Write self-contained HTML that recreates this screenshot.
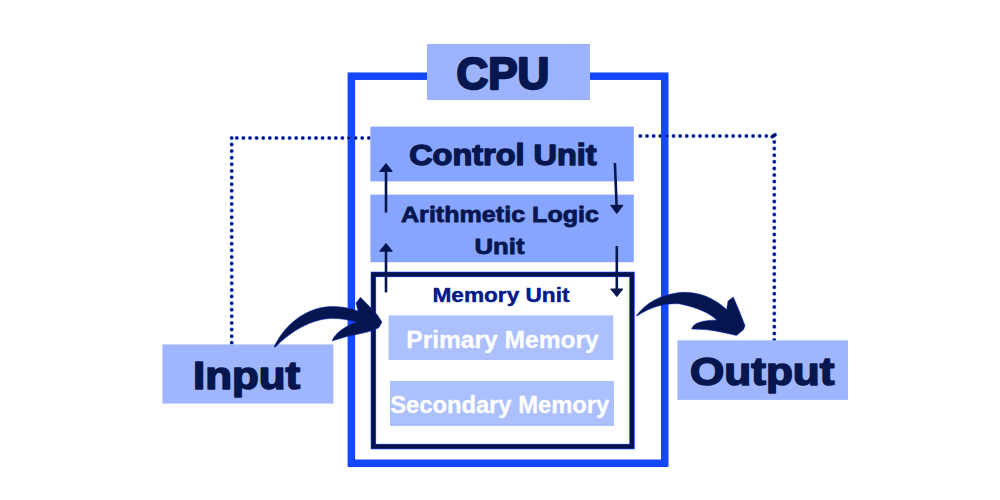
<!DOCTYPE html>
<html>
<head>
<meta charset="utf-8">
<style>
html,body{margin:0;padding:0;background:#fff;width:1000px;height:500px;overflow:hidden}
svg{display:block}
text{font-family:"Liberation Sans",sans-serif;font-weight:bold}
</style>
</head>
<body>
<svg width="1000" height="500" viewBox="0 0 1000 500">
<rect x="0" y="0" width="1000" height="500" fill="#ffffff"/>

<!-- CPU outer border -->
<rect x="351.35" y="76.2" width="313.4" height="387.05" fill="none" stroke="#1448ff" stroke-width="7.5"/>

<!-- dotted lines -->
<g fill="none" stroke-linecap="round">
  <path d="M231.7 137.9 V343.5" stroke="#1a4aff" stroke-width="4.0" stroke-dasharray="0 6.61"/>
  <path d="M236.8 137.9 H369.5" stroke="#1a4aff" stroke-width="4.0" stroke-dasharray="0 6.6"/>
  <path d="M640.4 136 H767" stroke="#1a4aff" stroke-width="4.0" stroke-dasharray="0 6.626"/>
  <path d="M774.3 142 V341" stroke="#1a4aff" stroke-width="4.0" stroke-dasharray="0 6.6"/>
  <path d="M772.2 136.6 L775 134.9" stroke="#1a4aff" stroke-width="4"/>
  <path d="M231.7 137.9 V343.5" stroke="#000a30" stroke-width="2.4" stroke-dasharray="0 6.61"/>
  <path d="M236.8 137.9 H369.5" stroke="#000a30" stroke-width="2.4" stroke-dasharray="0 6.6"/>
  <path d="M640.4 136 H767" stroke="#000a30" stroke-width="2.4" stroke-dasharray="0 6.626"/>
  <path d="M774.3 142 V341" stroke="#000a30" stroke-width="2.4" stroke-dasharray="0 6.6"/>
  <path d="M772.2 136.6 L775 134.9" stroke="#000a30" stroke-width="2.4"/>
</g>

<!-- CPU label -->
<rect x="427" y="44" width="163" height="56" fill="#9db4fd"/>

<!-- Control Unit -->
<rect x="370.4" y="126.6" width="263.4" height="54.8" fill="#88a5fe"/>
<!-- ALU -->
<rect x="370.4" y="194.6" width="263.4" height="67.6" fill="#88a5fe"/>

<!-- Memory unit box -->
<rect x="373.4" y="274.4" width="258.6" height="172.2" fill="#fff" stroke="#2050ff" stroke-width="5.4"/>
<rect x="373.3" y="274.4" width="258.7" height="172.1" fill="none" stroke="#03124a" stroke-width="4.2"/>
<rect x="388.6" y="315.4" width="224.6" height="44.6" fill="#abc0fd"/>
<rect x="390" y="381" width="224" height="45" fill="#abc0fd"/>

<!-- Input / Output -->
<rect x="162.4" y="344.4" width="171" height="59.2" fill="#9fb6fe"/>
<rect x="677.4" y="340.3" width="170.6" height="59.6" fill="#9fb6fe"/>

<!-- straight arrows -->
<g stroke="#04164f" stroke-width="2.6" fill="none">
  <line x1="386" y1="212.6" x2="386" y2="168"/>
  <line x1="386" y1="292.4" x2="386" y2="248"/>
  <line x1="614.9" y1="163" x2="616.6" y2="206"/>
  <line x1="616.8" y1="246" x2="616.8" y2="290"/>
</g>
<g fill="#04164f" stroke="#04164f" stroke-width="1" stroke-linejoin="round">
  <path d="M386 163.6 L392.3 171.4 L379.7 171.4 Z"/>
  <path d="M386 243.4 L392.3 251.2 L379.7 251.2 Z"/>
  <path d="M616.8 213.5 L610.6 205.3 L623 205.3 Z"/>
  <path d="M616.8 296.6 L610.7 289 L622.9 289 Z"/>
</g>

<!-- curved arrows -->
<g fill="#04164f" stroke="#0a2ad0" stroke-width="0.5" stroke-linejoin="round">
  <path d="M274 347 C284 326 304 308 330 306.5 C342 306.2 352 308.5 358 311 L356 303 L360.5 297.3 L371 308 L377 314.5 L382 322 L379 327.5 C372 331.5 360 334 347 336.5 L332 341 C334.5 334 344 326.5 356 322 C348 320 340 318 330 318.6 C312 319.5 292 330 275.5 347 Z"/>
  <path d="M636.4 315.6 C646 303 660 295 679 292.6 C695 291 712 296 726.6 309.4 L728 301 L733.3 297.1 L739.2 310.8 L745 325.6 L743.6 329.6 L736.6 335.6 C728 333.5 718 331 707 329.7 L691.6 329 C693.5 323.5 699 320.5 716.8 319.9 C710 314 700 308 679 303.8 C665 303 650 307 637 316 Z"/>
</g>

<!-- text -->
<g fill="#06164f" stroke="#06164f" stroke-linejoin="round">
  <text x="456.4" y="89.4" font-size="44.8" stroke-width="2.4" textLength="92.8" lengthAdjust="spacingAndGlyphs">CPU</text>
  <text x="409.2" y="165" font-size="29.9" stroke-width="1.4" textLength="187.4" lengthAdjust="spacingAndGlyphs">Control Unit</text>
  <text x="401" y="221.8" font-size="22.6" stroke-width="0.8" textLength="198" lengthAdjust="spacingAndGlyphs">Arithmetic Logic</text>
  <text x="474.5" y="253.7" font-size="22.6" stroke-width="0.8" textLength="50" lengthAdjust="spacingAndGlyphs">Unit</text>
  <text x="193" y="389" font-size="38.5" stroke-width="1.6" textLength="107" lengthAdjust="spacingAndGlyphs">Input</text>
  <text x="690" y="385" font-size="38.5" stroke-width="1.6" textLength="144.5" lengthAdjust="spacingAndGlyphs">Output</text>
</g>
<text x="432.5" y="301.7" font-size="20.3" stroke-width="0.3" stroke="#2050ff" stroke-linejoin="round" textLength="137" lengthAdjust="spacingAndGlyphs" fill="#2050ff">Memory Unit</text>
<text x="432.5" y="301.7" font-size="20.3" stroke-width="0" stroke="none" stroke-linejoin="round" textLength="137" lengthAdjust="spacingAndGlyphs" fill="#0a1c80">Memory Unit</text>
<g fill="#ffffff" stroke="#ffffff" stroke-width="0.3" stroke-linejoin="round">
  <text x="406.3" y="348.3" font-size="24.4" textLength="192.4" lengthAdjust="spacingAndGlyphs">Primary Memory</text>
  <text x="390.2" y="412.8" font-size="24.4" textLength="219" lengthAdjust="spacingAndGlyphs">Secondary Memory</text>
</g>
</svg>
</body>
</html>
